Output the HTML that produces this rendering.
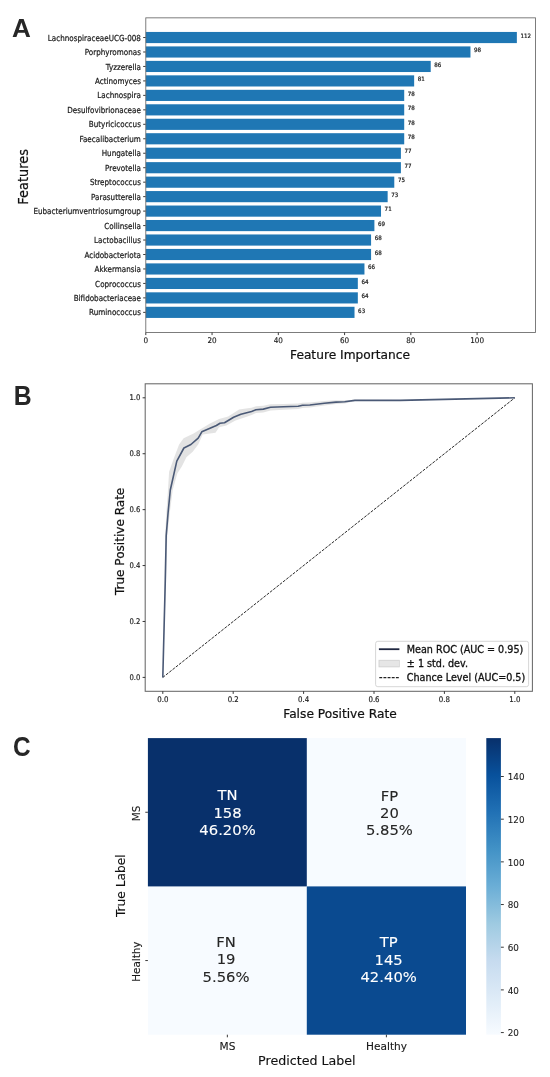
<!DOCTYPE html>
<html lang="en"><head><meta charset="utf-8"><title>Figure</title><style>html,body{margin:0;padding:0;background:#fff}svg{display:block}</style></head><body>
<svg width="550" height="1077" viewBox="0 0 550 1077" font-family='"DejaVu Sans","Liberation Sans",sans-serif'><defs><linearGradient id="blues" x1="0" y1="1" x2="0" y2="0"><stop offset="0.000" stop-color="#f7fbff"/><stop offset="0.125" stop-color="#deebf7"/><stop offset="0.250" stop-color="#c6dbef"/><stop offset="0.375" stop-color="#9ecae1"/><stop offset="0.500" stop-color="#6baed6"/><stop offset="0.625" stop-color="#4292c6"/><stop offset="0.750" stop-color="#2171b5"/><stop offset="0.875" stop-color="#08519c"/><stop offset="1.000" stop-color="#08306b"/></linearGradient></defs><rect width="550" height="1077" fill="#fff"/><g id="panelA">
<text transform="translate(12.00,36.60) scale(1.0300,1.0000)" font-size="25.3" text-anchor="start" fill="#262626" font-weight="bold" font-family='"Liberation Sans","DejaVu Sans",sans-serif'>A</text>
<rect x="145.80" y="31.95" width="371.06" height="11.15" fill="#1f77b4"/>
<rect x="145.80" y="46.41" width="324.67" height="11.15" fill="#1f77b4"/>
<rect x="145.80" y="60.88" width="284.92" height="11.15" fill="#1f77b4"/>
<rect x="145.80" y="75.34" width="268.35" height="11.15" fill="#1f77b4"/>
<rect x="145.80" y="89.81" width="258.41" height="11.15" fill="#1f77b4"/>
<rect x="145.80" y="104.28" width="258.41" height="11.15" fill="#1f77b4"/>
<rect x="145.80" y="118.74" width="258.41" height="11.15" fill="#1f77b4"/>
<rect x="145.80" y="133.20" width="258.41" height="11.15" fill="#1f77b4"/>
<rect x="145.80" y="147.67" width="255.10" height="11.15" fill="#1f77b4"/>
<rect x="145.80" y="162.13" width="255.10" height="11.15" fill="#1f77b4"/>
<rect x="145.80" y="176.60" width="248.48" height="11.15" fill="#1f77b4"/>
<rect x="145.80" y="191.06" width="241.85" height="11.15" fill="#1f77b4"/>
<rect x="145.80" y="205.53" width="235.22" height="11.15" fill="#1f77b4"/>
<rect x="145.80" y="219.99" width="228.60" height="11.15" fill="#1f77b4"/>
<rect x="145.80" y="234.46" width="225.28" height="11.15" fill="#1f77b4"/>
<rect x="145.80" y="248.92" width="225.28" height="11.15" fill="#1f77b4"/>
<rect x="145.80" y="263.39" width="218.66" height="11.15" fill="#1f77b4"/>
<rect x="145.80" y="277.86" width="212.03" height="11.15" fill="#1f77b4"/>
<rect x="145.80" y="292.32" width="212.03" height="11.15" fill="#1f77b4"/>
<rect x="145.80" y="306.78" width="208.72" height="11.15" fill="#1f77b4"/>
<line x1="143.20" x2="145.80" y1="37.52" y2="37.52" stroke="#222" stroke-width="0.9"/>
<text transform="translate(140.90,40.62) scale(0.8680,1.0000)" font-size="8.3" text-anchor="end" fill="#1a1a1a" stroke="#1a1a1a" stroke-width="0.22">LachnospiraceaeUCG-008</text>
<text transform="translate(520.46,37.73) scale(0.9240,1.0000)" font-size="6.0" text-anchor="start" fill="#1a1a1a" stroke="#1a1a1a" stroke-width="0.22">112</text>
<line x1="143.20" x2="145.80" y1="51.99" y2="51.99" stroke="#222" stroke-width="0.9"/>
<text transform="translate(140.90,55.09) scale(0.8680,1.0000)" font-size="8.3" text-anchor="end" fill="#1a1a1a" stroke="#1a1a1a" stroke-width="0.22">Porphyromonas</text>
<text transform="translate(474.07,52.19) scale(0.9240,1.0000)" font-size="6.0" text-anchor="start" fill="#1a1a1a" stroke="#1a1a1a" stroke-width="0.22">98</text>
<line x1="143.20" x2="145.80" y1="66.45" y2="66.45" stroke="#222" stroke-width="0.9"/>
<text transform="translate(140.90,69.55) scale(0.8680,1.0000)" font-size="8.3" text-anchor="end" fill="#1a1a1a" stroke="#1a1a1a" stroke-width="0.22">Tyzzerella</text>
<text transform="translate(434.32,66.66) scale(0.9240,1.0000)" font-size="6.0" text-anchor="start" fill="#1a1a1a" stroke="#1a1a1a" stroke-width="0.22">86</text>
<line x1="143.20" x2="145.80" y1="80.92" y2="80.92" stroke="#222" stroke-width="0.9"/>
<text transform="translate(140.90,84.02) scale(0.8680,1.0000)" font-size="8.3" text-anchor="end" fill="#1a1a1a" stroke="#1a1a1a" stroke-width="0.22">Actinomyces</text>
<text transform="translate(417.75,81.12) scale(0.9240,1.0000)" font-size="6.0" text-anchor="start" fill="#1a1a1a" stroke="#1a1a1a" stroke-width="0.22">81</text>
<line x1="143.20" x2="145.80" y1="95.39" y2="95.39" stroke="#222" stroke-width="0.9"/>
<text transform="translate(140.90,98.48) scale(0.8680,1.0000)" font-size="8.3" text-anchor="end" fill="#1a1a1a" stroke="#1a1a1a" stroke-width="0.22">Lachnospira</text>
<text transform="translate(407.81,95.59) scale(0.9240,1.0000)" font-size="6.0" text-anchor="start" fill="#1a1a1a" stroke="#1a1a1a" stroke-width="0.22">78</text>
<line x1="143.20" x2="145.80" y1="109.85" y2="109.85" stroke="#222" stroke-width="0.9"/>
<text transform="translate(140.90,112.95) scale(0.8680,1.0000)" font-size="8.3" text-anchor="end" fill="#1a1a1a" stroke="#1a1a1a" stroke-width="0.22">Desulfovibrionaceae</text>
<text transform="translate(407.81,110.05) scale(0.9240,1.0000)" font-size="6.0" text-anchor="start" fill="#1a1a1a" stroke="#1a1a1a" stroke-width="0.22">78</text>
<line x1="143.20" x2="145.80" y1="124.31" y2="124.31" stroke="#222" stroke-width="0.9"/>
<text transform="translate(140.90,127.41) scale(0.8680,1.0000)" font-size="8.3" text-anchor="end" fill="#1a1a1a" stroke="#1a1a1a" stroke-width="0.22">Butyricicoccus</text>
<text transform="translate(407.81,124.52) scale(0.9240,1.0000)" font-size="6.0" text-anchor="start" fill="#1a1a1a" stroke="#1a1a1a" stroke-width="0.22">78</text>
<line x1="143.20" x2="145.80" y1="138.78" y2="138.78" stroke="#222" stroke-width="0.9"/>
<text transform="translate(140.90,141.88) scale(0.8680,1.0000)" font-size="8.3" text-anchor="end" fill="#1a1a1a" stroke="#1a1a1a" stroke-width="0.22">Faecalibacterium</text>
<text transform="translate(407.81,138.98) scale(0.9240,1.0000)" font-size="6.0" text-anchor="start" fill="#1a1a1a" stroke="#1a1a1a" stroke-width="0.22">78</text>
<line x1="143.20" x2="145.80" y1="153.24" y2="153.24" stroke="#222" stroke-width="0.9"/>
<text transform="translate(140.90,156.34) scale(0.8680,1.0000)" font-size="8.3" text-anchor="end" fill="#1a1a1a" stroke="#1a1a1a" stroke-width="0.22">Hungatella</text>
<text transform="translate(404.50,153.44) scale(0.9240,1.0000)" font-size="6.0" text-anchor="start" fill="#1a1a1a" stroke="#1a1a1a" stroke-width="0.22">77</text>
<line x1="143.20" x2="145.80" y1="167.71" y2="167.71" stroke="#222" stroke-width="0.9"/>
<text transform="translate(140.90,170.81) scale(0.8680,1.0000)" font-size="8.3" text-anchor="end" fill="#1a1a1a" stroke="#1a1a1a" stroke-width="0.22">Prevotella</text>
<text transform="translate(404.50,167.91) scale(0.9240,1.0000)" font-size="6.0" text-anchor="start" fill="#1a1a1a" stroke="#1a1a1a" stroke-width="0.22">77</text>
<line x1="143.20" x2="145.80" y1="182.17" y2="182.17" stroke="#222" stroke-width="0.9"/>
<text transform="translate(140.90,185.27) scale(0.8680,1.0000)" font-size="8.3" text-anchor="end" fill="#1a1a1a" stroke="#1a1a1a" stroke-width="0.22">Streptococcus</text>
<text transform="translate(397.88,182.37) scale(0.9240,1.0000)" font-size="6.0" text-anchor="start" fill="#1a1a1a" stroke="#1a1a1a" stroke-width="0.22">75</text>
<line x1="143.20" x2="145.80" y1="196.64" y2="196.64" stroke="#222" stroke-width="0.9"/>
<text transform="translate(140.90,199.74) scale(0.8680,1.0000)" font-size="8.3" text-anchor="end" fill="#1a1a1a" stroke="#1a1a1a" stroke-width="0.22">Parasutterella</text>
<text transform="translate(391.25,196.84) scale(0.9240,1.0000)" font-size="6.0" text-anchor="start" fill="#1a1a1a" stroke="#1a1a1a" stroke-width="0.22">73</text>
<line x1="143.20" x2="145.80" y1="211.10" y2="211.10" stroke="#222" stroke-width="0.9"/>
<text transform="translate(140.90,214.20) scale(0.8680,1.0000)" font-size="8.3" text-anchor="end" fill="#1a1a1a" stroke="#1a1a1a" stroke-width="0.22">Eubacteriumventriosumgroup</text>
<text transform="translate(384.62,211.30) scale(0.9240,1.0000)" font-size="6.0" text-anchor="start" fill="#1a1a1a" stroke="#1a1a1a" stroke-width="0.22">71</text>
<line x1="143.20" x2="145.80" y1="225.57" y2="225.57" stroke="#222" stroke-width="0.9"/>
<text transform="translate(140.90,228.67) scale(0.8680,1.0000)" font-size="8.3" text-anchor="end" fill="#1a1a1a" stroke="#1a1a1a" stroke-width="0.22">Collinsella</text>
<text transform="translate(378.00,225.77) scale(0.9240,1.0000)" font-size="6.0" text-anchor="start" fill="#1a1a1a" stroke="#1a1a1a" stroke-width="0.22">69</text>
<line x1="143.20" x2="145.80" y1="240.03" y2="240.03" stroke="#222" stroke-width="0.9"/>
<text transform="translate(140.90,243.13) scale(0.8680,1.0000)" font-size="8.3" text-anchor="end" fill="#1a1a1a" stroke="#1a1a1a" stroke-width="0.22">Lactobacillus</text>
<text transform="translate(374.68,240.23) scale(0.9240,1.0000)" font-size="6.0" text-anchor="start" fill="#1a1a1a" stroke="#1a1a1a" stroke-width="0.22">68</text>
<line x1="143.20" x2="145.80" y1="254.50" y2="254.50" stroke="#222" stroke-width="0.9"/>
<text transform="translate(140.90,257.60) scale(0.8680,1.0000)" font-size="8.3" text-anchor="end" fill="#1a1a1a" stroke="#1a1a1a" stroke-width="0.22">Acidobacteriota</text>
<text transform="translate(374.68,254.70) scale(0.9240,1.0000)" font-size="6.0" text-anchor="start" fill="#1a1a1a" stroke="#1a1a1a" stroke-width="0.22">68</text>
<line x1="143.20" x2="145.80" y1="268.96" y2="268.96" stroke="#222" stroke-width="0.9"/>
<text transform="translate(140.90,272.06) scale(0.8680,1.0000)" font-size="8.3" text-anchor="end" fill="#1a1a1a" stroke="#1a1a1a" stroke-width="0.22">Akkermansia</text>
<text transform="translate(368.06,269.16) scale(0.9240,1.0000)" font-size="6.0" text-anchor="start" fill="#1a1a1a" stroke="#1a1a1a" stroke-width="0.22">66</text>
<line x1="143.20" x2="145.80" y1="283.43" y2="283.43" stroke="#222" stroke-width="0.9"/>
<text transform="translate(140.90,286.53) scale(0.8680,1.0000)" font-size="8.3" text-anchor="end" fill="#1a1a1a" stroke="#1a1a1a" stroke-width="0.22">Coprococcus</text>
<text transform="translate(361.43,283.63) scale(0.9240,1.0000)" font-size="6.0" text-anchor="start" fill="#1a1a1a" stroke="#1a1a1a" stroke-width="0.22">64</text>
<line x1="143.20" x2="145.80" y1="297.89" y2="297.89" stroke="#222" stroke-width="0.9"/>
<text transform="translate(140.90,301.00) scale(0.8680,1.0000)" font-size="8.3" text-anchor="end" fill="#1a1a1a" stroke="#1a1a1a" stroke-width="0.22">Bifidobacteriaceae</text>
<text transform="translate(361.43,298.09) scale(0.9240,1.0000)" font-size="6.0" text-anchor="start" fill="#1a1a1a" stroke="#1a1a1a" stroke-width="0.22">64</text>
<line x1="143.20" x2="145.80" y1="312.36" y2="312.36" stroke="#222" stroke-width="0.9"/>
<text transform="translate(140.90,315.46) scale(0.8680,1.0000)" font-size="8.3" text-anchor="end" fill="#1a1a1a" stroke="#1a1a1a" stroke-width="0.22">Ruminococcus</text>
<text transform="translate(358.12,312.56) scale(0.9240,1.0000)" font-size="6.0" text-anchor="start" fill="#1a1a1a" stroke="#1a1a1a" stroke-width="0.22">63</text>
<rect x="145.8" y="17.85" width="389.74999999999994" height="314.65" fill="none" stroke="#666" stroke-width="0.85"/>
<line x1="145.80" x2="145.80" y1="332.5" y2="335.1" stroke="#222" stroke-width="0.9"/>
<text transform="translate(145.80,343.10) scale(0.9300,1.0000)" font-size="7.8" text-anchor="middle" fill="#1a1a1a" stroke="#1a1a1a" stroke-width="0.15">0</text>
<line x1="212.06" x2="212.06" y1="332.5" y2="335.1" stroke="#222" stroke-width="0.9"/>
<text transform="translate(212.06,343.10) scale(0.9300,1.0000)" font-size="7.8" text-anchor="middle" fill="#1a1a1a" stroke="#1a1a1a" stroke-width="0.15">20</text>
<line x1="278.32" x2="278.32" y1="332.5" y2="335.1" stroke="#222" stroke-width="0.9"/>
<text transform="translate(278.32,343.10) scale(0.9300,1.0000)" font-size="7.8" text-anchor="middle" fill="#1a1a1a" stroke="#1a1a1a" stroke-width="0.15">40</text>
<line x1="344.58" x2="344.58" y1="332.5" y2="335.1" stroke="#222" stroke-width="0.9"/>
<text transform="translate(344.58,343.10) scale(0.9300,1.0000)" font-size="7.8" text-anchor="middle" fill="#1a1a1a" stroke="#1a1a1a" stroke-width="0.15">60</text>
<line x1="410.84" x2="410.84" y1="332.5" y2="335.1" stroke="#222" stroke-width="0.9"/>
<text transform="translate(410.84,343.10) scale(0.9300,1.0000)" font-size="7.8" text-anchor="middle" fill="#1a1a1a" stroke="#1a1a1a" stroke-width="0.15">80</text>
<line x1="477.10" x2="477.10" y1="332.5" y2="335.1" stroke="#222" stroke-width="0.9"/>
<text transform="translate(477.10,343.10) scale(0.9300,1.0000)" font-size="7.8" text-anchor="middle" fill="#1a1a1a" stroke="#1a1a1a" stroke-width="0.15">100</text>
<text transform="translate(350.00,358.90) scale(0.9930,1.0000)" font-size="12.3" text-anchor="middle" fill="#111" stroke="#111" stroke-width="0.22">Feature Importance</text>
<text transform="translate(28.30,176.90) rotate(-90) scale(0.9650,1.0000)" font-size="13.4" text-anchor="middle" fill="#111" stroke="#111" stroke-width="0.22">Features</text>
</g>
<g id="panelB">
<text transform="translate(13.85,405.10) scale(0.8850,1.0000)" font-size="28.0" text-anchor="start" fill="#262626" font-weight="bold" font-family='"Liberation Sans","DejaVu Sans",sans-serif'>B</text>
<polygon points="162.8,677.4 164.6,580.0 165.2,535.0 166.4,512.0 168.0,490.0 169.1,471.8 173.6,459.1 179.1,444.5 183.6,438.2 193.6,433.6 200.9,429.1 210.0,423.6 219.1,419.1 228.2,416.4 239.1,409.6 246.0,408.4 251.6,407.8 256.0,406.2 263.3,405.8 270.5,404.2 283.6,403.9 298.2,403.5 302.5,402.7 309.8,402.5 324.4,401.1 336.0,400.2 344.7,400.2 354.9,399.7 400.0,400.0 514.8,397.8 514.8,397.8 400.0,400.8 354.9,401.1 344.7,403.4 336.0,404.0 324.4,405.5 309.8,407.5 302.5,407.9 298.2,408.9 283.6,409.7 270.5,410.4 263.3,412.4 256.0,413.1 251.6,415.0 246.0,417.0 235.5,420.6 226.4,425.5 219.1,427.3 215.5,432.7 202.7,434.5 198.2,444.5 192.7,451.8 186.4,457.3 181.8,466.4 177.3,473.6 172.7,490.0 169.8,512.5 167.3,535.7 166.0,580.0 162.8,677.4" fill="#808080" fill-opacity="0.22"/>
<line x1="162.8" y1="677.4" x2="514.8" y2="397.8" stroke="#2a2a2a" stroke-width="1.0" stroke-dasharray="2.9,1.25"/>
<polyline points="162.8,677.4 165.3,580.0 166.2,535.7 168.1,512.5 170.3,490.0 176.8,461.1 183.9,448.0 190.9,444.5 198.2,438.2 201.8,431.8 210.0,428.2 216.4,425.5 220.0,423.3 224.5,422.7 233.6,417.3 240.9,414.2 251.6,411.4 256.0,409.7 263.3,409.1 270.5,407.3 283.6,406.8 298.2,406.2 302.5,405.3 309.8,405.0 324.4,403.3 336.0,402.1 344.7,401.8 354.9,400.4 400.0,400.4 514.8,397.8" fill="none" stroke="#4a5976" stroke-width="1.6" stroke-linejoin="round"/>
<rect x="145.2" y="383.8" width="387.2" height="307.49999999999994" fill="none" stroke="#686868" stroke-width="1.05"/>
<line x1="162.80" x2="162.80" y1="691.3" y2="693.9" stroke="#222" stroke-width="0.9"/>
<text transform="translate(162.80,701.80) scale(0.9000,1.0000)" font-size="7.8" text-anchor="middle" fill="#222" stroke="#222" stroke-width="0.2">0.0</text>
<line x1="142.60" x2="145.2" y1="677.40" y2="677.40" stroke="#222" stroke-width="0.9"/>
<text transform="translate(140.30,679.70) scale(0.8800,1.0000)" font-size="7.8" text-anchor="end" fill="#222" stroke="#222" stroke-width="0.2">0.0</text>
<line x1="233.20" x2="233.20" y1="691.3" y2="693.9" stroke="#222" stroke-width="0.9"/>
<text transform="translate(233.20,701.80) scale(0.9000,1.0000)" font-size="7.8" text-anchor="middle" fill="#222" stroke="#222" stroke-width="0.2">0.2</text>
<line x1="142.60" x2="145.2" y1="621.48" y2="621.48" stroke="#222" stroke-width="0.9"/>
<text transform="translate(140.30,623.78) scale(0.8800,1.0000)" font-size="7.8" text-anchor="end" fill="#222" stroke="#222" stroke-width="0.2">0.2</text>
<line x1="303.60" x2="303.60" y1="691.3" y2="693.9" stroke="#222" stroke-width="0.9"/>
<text transform="translate(303.60,701.80) scale(0.9000,1.0000)" font-size="7.8" text-anchor="middle" fill="#222" stroke="#222" stroke-width="0.2">0.4</text>
<line x1="142.60" x2="145.2" y1="565.56" y2="565.56" stroke="#222" stroke-width="0.9"/>
<text transform="translate(140.30,567.86) scale(0.8800,1.0000)" font-size="7.8" text-anchor="end" fill="#222" stroke="#222" stroke-width="0.2">0.4</text>
<line x1="374.00" x2="374.00" y1="691.3" y2="693.9" stroke="#222" stroke-width="0.9"/>
<text transform="translate(374.00,701.80) scale(0.9000,1.0000)" font-size="7.8" text-anchor="middle" fill="#222" stroke="#222" stroke-width="0.2">0.6</text>
<line x1="142.60" x2="145.2" y1="509.64" y2="509.64" stroke="#222" stroke-width="0.9"/>
<text transform="translate(140.30,511.94) scale(0.8800,1.0000)" font-size="7.8" text-anchor="end" fill="#222" stroke="#222" stroke-width="0.2">0.6</text>
<line x1="444.40" x2="444.40" y1="691.3" y2="693.9" stroke="#222" stroke-width="0.9"/>
<text transform="translate(444.40,701.80) scale(0.9000,1.0000)" font-size="7.8" text-anchor="middle" fill="#222" stroke="#222" stroke-width="0.2">0.8</text>
<line x1="142.60" x2="145.2" y1="453.72" y2="453.72" stroke="#222" stroke-width="0.9"/>
<text transform="translate(140.30,456.02) scale(0.8800,1.0000)" font-size="7.8" text-anchor="end" fill="#222" stroke="#222" stroke-width="0.2">0.8</text>
<line x1="514.80" x2="514.80" y1="691.3" y2="693.9" stroke="#222" stroke-width="0.9"/>
<text transform="translate(514.80,701.80) scale(0.9000,1.0000)" font-size="7.8" text-anchor="middle" fill="#222" stroke="#222" stroke-width="0.2">1.0</text>
<line x1="142.60" x2="145.2" y1="397.80" y2="397.80" stroke="#222" stroke-width="0.9"/>
<text transform="translate(140.30,400.10) scale(0.8800,1.0000)" font-size="7.8" text-anchor="end" fill="#222" stroke="#222" stroke-width="0.2">1.0</text>
<text transform="translate(340.00,717.90) scale(0.9700,1.0000)" font-size="12.6" text-anchor="middle" fill="#111" stroke="#111" stroke-width="0.22">False Positive Rate</text>
<text transform="translate(124.00,541.40) rotate(-90) scale(0.9730,1.0000)" font-size="12.4" text-anchor="middle" fill="#111" stroke="#111" stroke-width="0.22">True Positive Rate</text>
<rect x="375.6" y="641.3" width="153" height="45.4" rx="2.2" fill="#fff" fill-opacity="0.8" stroke="#ccc" stroke-width="0.8"/>
<line x1="378.9" x2="399.4" y1="649.2" y2="649.2" stroke="#1f2740" stroke-width="1.8"/>
<rect x="378.9" y="660.2" width="20.5" height="6.8" fill="#808080" fill-opacity="0.2" stroke="#808080" stroke-opacity="0.3" stroke-width="0.7"/>
<line x1="379.3" x2="399.4" y1="677.7" y2="677.7" stroke="#222" stroke-width="1.3" stroke-dasharray="2.9,1.25"/>
<text transform="translate(406.80,652.70)" font-size="9.6" text-anchor="start" fill="#111" stroke="#111" stroke-width="0.3">Mean ROC (AUC = 0.95)</text>
<text transform="translate(406.80,666.90)" font-size="9.6" text-anchor="start" fill="#111" stroke="#111" stroke-width="0.3">± 1 std. dev.</text>
<text transform="translate(406.80,680.90)" font-size="9.6" text-anchor="start" fill="#111" stroke="#111" stroke-width="0.3">Chance Level (AUC=0.5)</text>
</g>
<g id="panelC">
<text transform="translate(13.00,755.60) scale(0.8600,1.0000)" font-size="28.4" text-anchor="start" fill="#262626" font-weight="bold" font-family='"Liberation Sans","DejaVu Sans",sans-serif'>C</text>
<rect x="147.9" y="738.1" width="318.1" height="296.6" fill="#f7fbff"/>
<rect x="147.9" y="738.1" width="158.9" height="148.29999999999995" fill="#08306b"/>
<rect x="306.8" y="886.4" width="159.2" height="148.30000000000007" fill="#0a4a90"/>
<text transform="translate(227.55,800.40) scale(1.0800,1.0000)" font-size="13.7" text-anchor="middle" fill="#fff" stroke="#fff" stroke-width="0.1">TN</text>
<text transform="translate(227.55,817.80) scale(1.0800,1.0000)" font-size="13.7" text-anchor="middle" fill="#fff" stroke="#fff" stroke-width="0.1">158</text>
<text transform="translate(227.55,835.20) scale(1.0800,1.0000)" font-size="13.7" text-anchor="middle" fill="#fff" stroke="#fff" stroke-width="0.1">46.20%</text>
<text transform="translate(389.40,800.50) scale(1.0800,1.0000)" font-size="13.7" text-anchor="middle" fill="#262626" stroke="#262626" stroke-width="0.1">FP</text>
<text transform="translate(389.40,817.90) scale(1.0800,1.0000)" font-size="13.7" text-anchor="middle" fill="#262626" stroke="#262626" stroke-width="0.1">20</text>
<text transform="translate(389.40,835.30) scale(1.0800,1.0000)" font-size="13.7" text-anchor="middle" fill="#262626" stroke="#262626" stroke-width="0.1">5.85%</text>
<text transform="translate(226.10,946.90) scale(1.0800,1.0000)" font-size="13.7" text-anchor="middle" fill="#262626" stroke="#262626" stroke-width="0.1">FN</text>
<text transform="translate(226.10,964.30) scale(1.0800,1.0000)" font-size="13.7" text-anchor="middle" fill="#262626" stroke="#262626" stroke-width="0.1">19</text>
<text transform="translate(226.10,981.70) scale(1.0800,1.0000)" font-size="13.7" text-anchor="middle" fill="#262626" stroke="#262626" stroke-width="0.1">5.56%</text>
<text transform="translate(388.65,947.30) scale(1.0800,1.0000)" font-size="13.7" text-anchor="middle" fill="#fff" stroke="#fff" stroke-width="0.1">TP</text>
<text transform="translate(388.65,964.70) scale(1.0800,1.0000)" font-size="13.7" text-anchor="middle" fill="#fff" stroke="#fff" stroke-width="0.1">145</text>
<text transform="translate(388.65,982.10) scale(1.0800,1.0000)" font-size="13.7" text-anchor="middle" fill="#fff" stroke="#fff" stroke-width="0.1">42.40%</text>
<line x1="227.35" x2="227.35" y1="1034.7" y2="1037.3" stroke="#222" stroke-width="0.9"/>
<text transform="translate(227.45,1049.50) scale(1.0400,1.0000)" font-size="10.2" text-anchor="middle" fill="#1a1a1a" stroke="#1a1a1a" stroke-width="0.12">MS</text>
<line x1="386.40" x2="386.40" y1="1034.7" y2="1037.3" stroke="#222" stroke-width="0.9"/>
<text transform="translate(386.50,1049.50) scale(1.0400,1.0000)" font-size="10.2" text-anchor="middle" fill="#1a1a1a" stroke="#1a1a1a" stroke-width="0.12">Healthy</text>
<line x1="145.30" x2="147.9" y1="812.25" y2="812.25" stroke="#222" stroke-width="0.9"/>
<text transform="translate(140.30,813.35) rotate(-90) scale(1.0200,1.0000)" font-size="10.2" text-anchor="middle" fill="#1a1a1a" stroke="#1a1a1a" stroke-width="0.12">MS</text>
<line x1="145.30" x2="147.9" y1="960.55" y2="960.55" stroke="#222" stroke-width="0.9"/>
<text transform="translate(140.30,961.65) rotate(-90) scale(1.0200,1.0000)" font-size="10.2" text-anchor="middle" fill="#1a1a1a" stroke="#1a1a1a" stroke-width="0.12">Healthy</text>
<text transform="translate(306.85,1064.50) scale(1.0380,1.0000)" font-size="12.2" text-anchor="middle" fill="#111" stroke="#111" stroke-width="0.12">Predicted Label</text>
<text transform="translate(125.40,885.80) rotate(-90)" font-size="12.2" text-anchor="middle" fill="#111" stroke="#111" stroke-width="0.12">True Label</text>
<rect x="486.3" y="738.1" width="14.6" height="296.6" fill="url(#blues)"/>
<line x1="500.9" x2="503.8" y1="1032.57" y2="1032.57" stroke="#222" stroke-width="0.9"/>
<text transform="translate(507.70,1036.37) scale(0.9800,1.0000)" font-size="9.0" text-anchor="start" fill="#1a1a1a" stroke="#1a1a1a" stroke-width="0.1">20</text>
<line x1="500.9" x2="503.8" y1="989.89" y2="989.89" stroke="#222" stroke-width="0.9"/>
<text transform="translate(507.70,993.69) scale(0.9800,1.0000)" font-size="9.0" text-anchor="start" fill="#1a1a1a" stroke="#1a1a1a" stroke-width="0.1">40</text>
<line x1="500.9" x2="503.8" y1="947.21" y2="947.21" stroke="#222" stroke-width="0.9"/>
<text transform="translate(507.70,951.01) scale(0.9800,1.0000)" font-size="9.0" text-anchor="start" fill="#1a1a1a" stroke="#1a1a1a" stroke-width="0.1">60</text>
<line x1="500.9" x2="503.8" y1="904.54" y2="904.54" stroke="#222" stroke-width="0.9"/>
<text transform="translate(507.70,908.34) scale(0.9800,1.0000)" font-size="9.0" text-anchor="start" fill="#1a1a1a" stroke="#1a1a1a" stroke-width="0.1">80</text>
<line x1="500.9" x2="503.8" y1="861.86" y2="861.86" stroke="#222" stroke-width="0.9"/>
<text transform="translate(507.70,865.66) scale(0.9800,1.0000)" font-size="9.0" text-anchor="start" fill="#1a1a1a" stroke="#1a1a1a" stroke-width="0.1">100</text>
<line x1="500.9" x2="503.8" y1="819.18" y2="819.18" stroke="#222" stroke-width="0.9"/>
<text transform="translate(507.70,822.98) scale(0.9800,1.0000)" font-size="9.0" text-anchor="start" fill="#1a1a1a" stroke="#1a1a1a" stroke-width="0.1">120</text>
<line x1="500.9" x2="503.8" y1="776.51" y2="776.51" stroke="#222" stroke-width="0.9"/>
<text transform="translate(507.70,780.31) scale(0.9800,1.0000)" font-size="9.0" text-anchor="start" fill="#1a1a1a" stroke="#1a1a1a" stroke-width="0.1">140</text>
</g></svg>
</body></html>
